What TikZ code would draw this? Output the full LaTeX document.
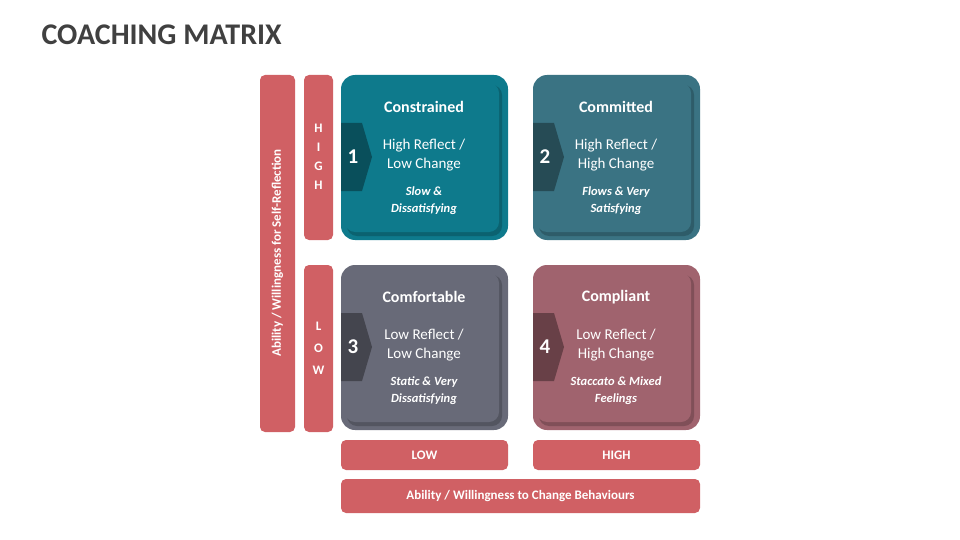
\documentclass[tikz,border=0pt]{standalone}
\usepackage{fontspec}
\setmainfont{Carlito}
\begin{document}
\begin{tikzpicture}[x=1pt,y=-1pt,
  bar/.style={fill=barred,draw=none,rounded corners=5pt},
  quad/.style={draw=none,rounded corners=14pt},
  wt/.style={text=white,font=\bfseries}]
\definecolor{barred}{HTML}{D06064}
\definecolor{qa}{HTML}{0E7A8C}\definecolor{qb}{HTML}{3A7383}
\definecolor{qc}{HTML}{686A78}\definecolor{qd}{HTML}{A0636E}
\useasboundingbox (0,0) rectangle (960,540);
\node[anchor=west,font=\bfseries\fontsize{30}{30}\selectfont,text=black!75] (title) at (38,35) {COACHING MATRIX};
\fill[bar] (260,75) rectangle (295,432);
\node[wt,rotate=90,font=\bfseries\fontsize{13}{13}\selectfont] (yl) at (277.5,253) {Ability / Willingness for Self-Reflection};
\fill[bar] (304,75) rectangle (333,240);
\node[wt,align=center,font=\bfseries\fontsize{13}{19}\selectfont] (hi) at (318.5,157) {H\\I\\G\\H};
\fill[bar] (304,265) rectangle (333,432);
\node[wt,align=center,font=\bfseries\fontsize{13}{22}\selectfont] (lo) at (318.5,348) {L\\O\\W};
\fill[bar] (341,440) rectangle (508,470);
\node[wt,font=\bfseries\fontsize{13}{13}\selectfont] (xlo) at (424.5,455) {LOW};
\fill[bar] (533,440) rectangle (700,470);
\node[wt,font=\bfseries\fontsize{13}{13}\selectfont] (xhi) at (616.5,455) {HIGH};
\fill[bar] (341,479) rectangle (700,513);
\node[wt,font=\bfseries\fontsize{13}{13}\selectfont] (xl) at (520.5,496) {Ability / Willingness to Change Behaviours};
\newcommand{\quadr}[8]{%
  \fill[quad,#1] (#2,#3) rectangle ++(167,165);
  \fill[#1!80!black,rounded corners=10pt] (#2+6,#3+10) rectangle ++(155,151);
  \fill[#1,rounded corners=10pt] (#2+4,#3+8) rectangle ++(154,149);
  \fill[#1!65!black] (#2,#3+48) -- ++(21,0) -- ++(10,34) -- ++(-10,34) -- ++(-21,0) -- cycle;
  \node[wt,font=\bfseries\fontsize{21}{21}\selectfont] (n#4) at (#2+12,#3+82) {#4};
  \node[wt,font=\bfseries\fontsize{16}{16}\selectfont] (t#4) at (#2+83,#3+32) {#5};
  \node[text=white,align=center,font=\fontsize{15}{19}\selectfont] (m#4) at (#2+83,#3+80) {#6};
  \node[text=white,align=center,font=\bfseries\itshape\fontsize{12.5}{17}\selectfont] (s#4) at (#2+83,#3+126) {#7};
}
\quadr{qa}{341}{75}{1}{Constrained}{High Reflect /\\Low Change}{Slow \&\\Dissatisfying}{}
\quadr{qb}{533}{75}{2}{Committed}{High Reflect /\\High Change}{Flows \& Very\\Satisfying}{}
\quadr{qc}{341}{265}{3}{Comfortable}{Low Reflect /\\Low Change}{Static \& Very\\Dissatisfying}{}
\quadr{qd}{533}{265}{4}{Compliant}{Low Reflect /\\High Change}{Staccato \& Mixed\\Feelings}{}
\end{tikzpicture}
\end{document}
